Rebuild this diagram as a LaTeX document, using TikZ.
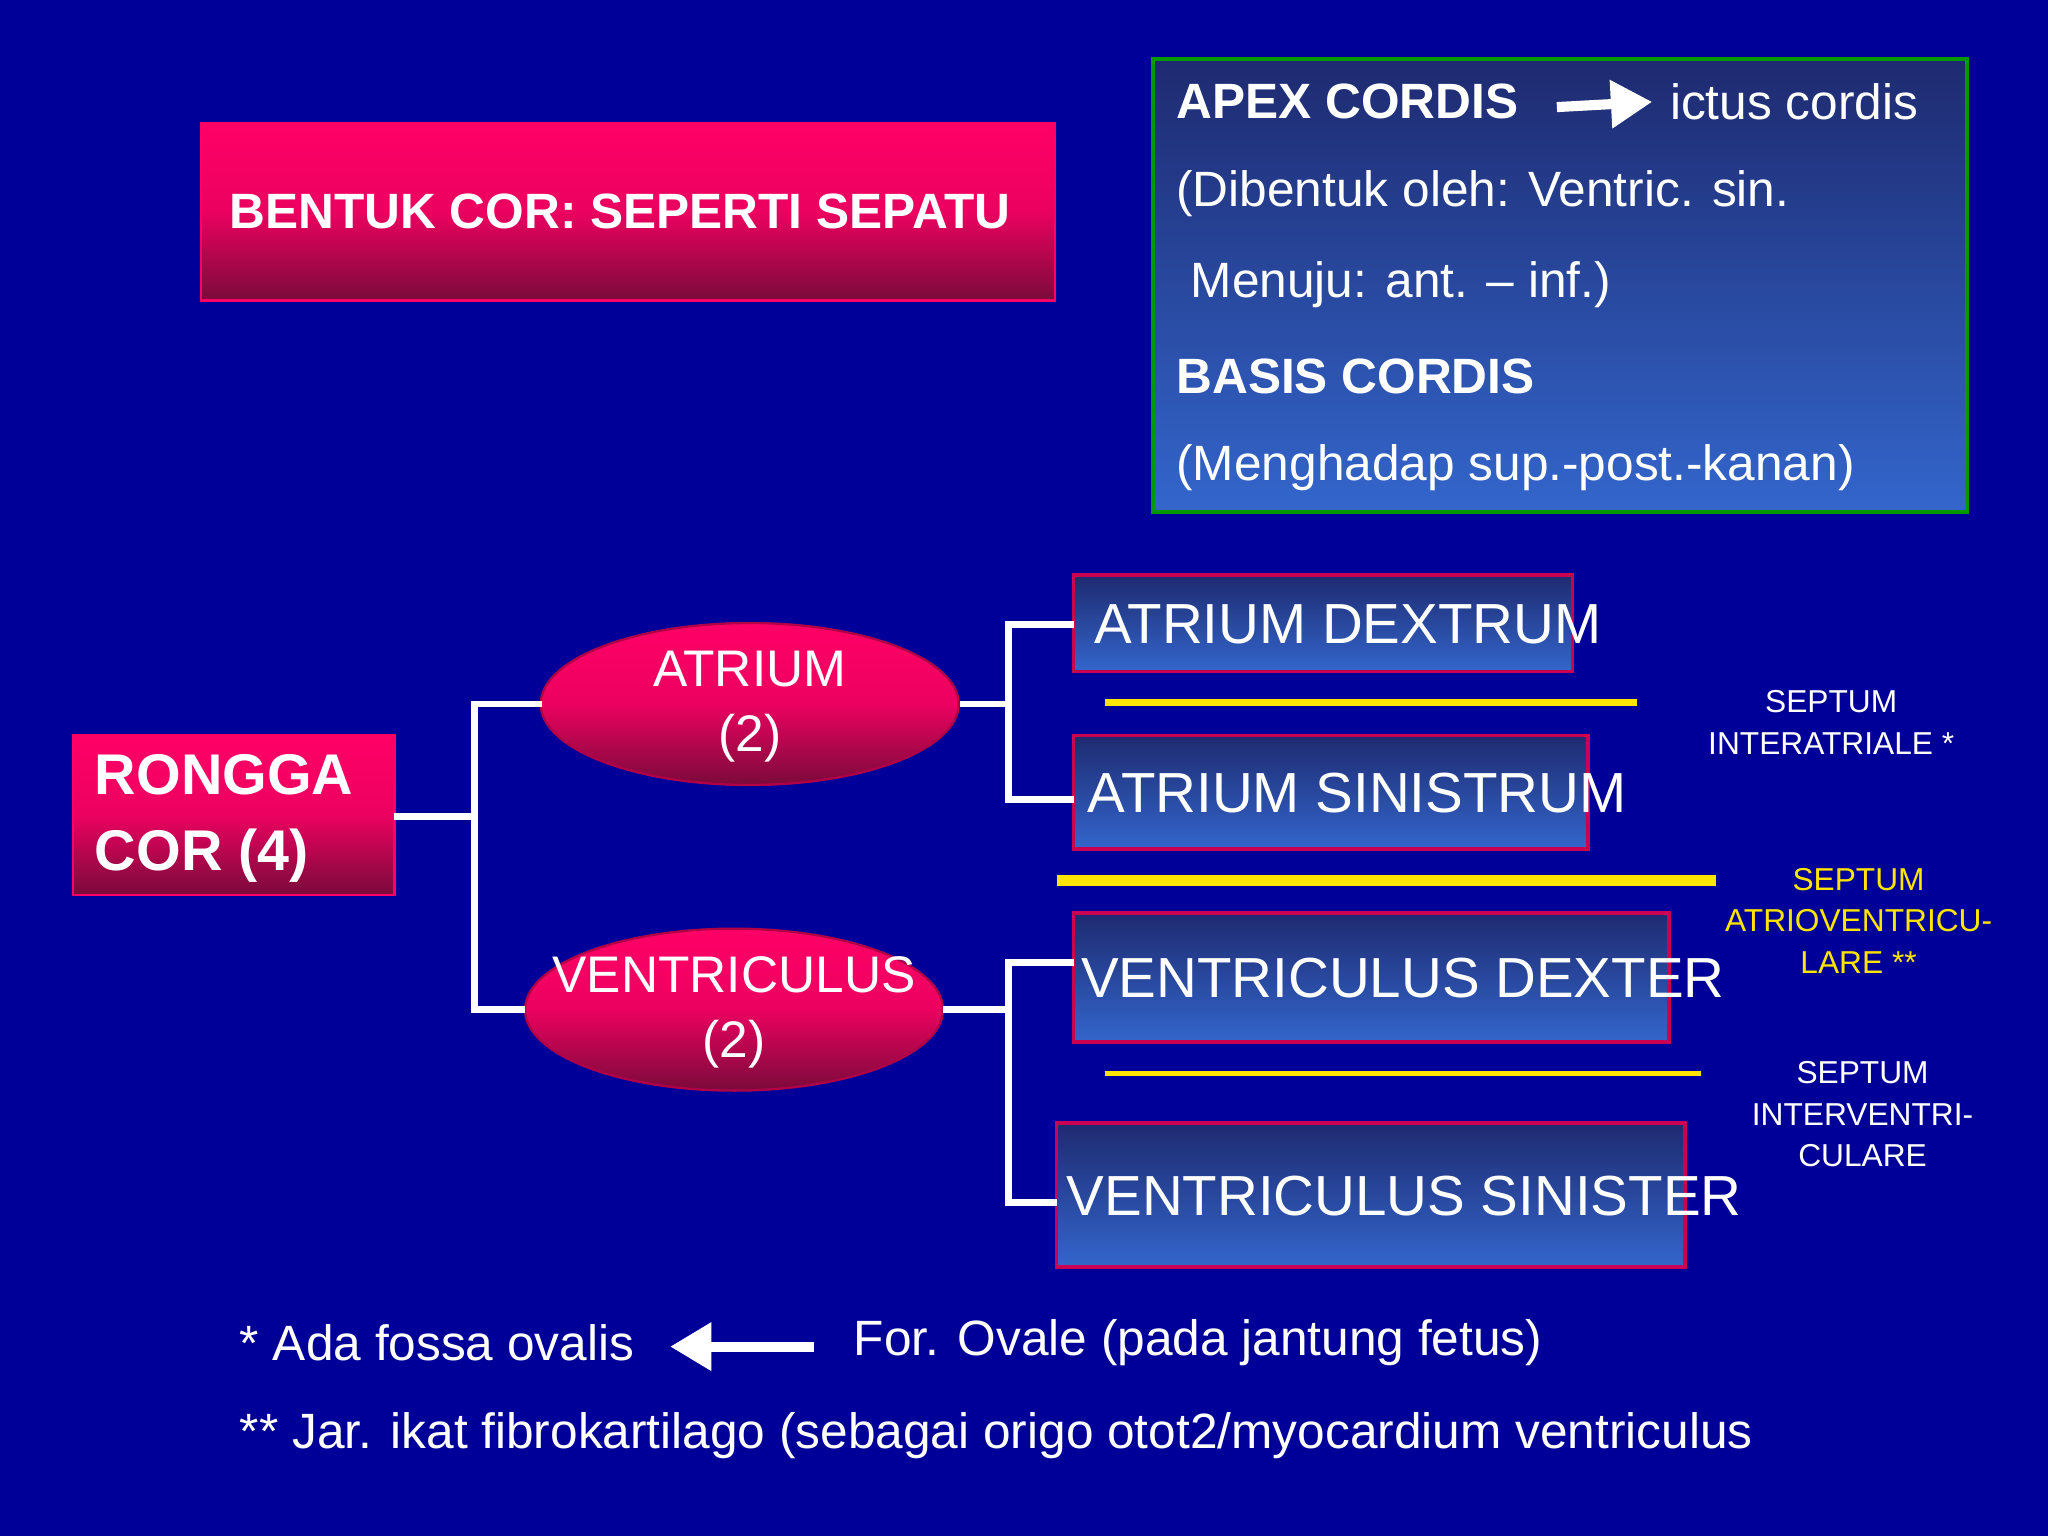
\documentclass[tikz,border=0pt]{standalone}
\usepackage{fontspec}
\setmainfont{Liberation Sans}
\usetikzlibrary{arrows.meta}
\definecolor{bg}{HTML}{000099}
\definecolor{pinkT}{HTML}{FF0066}
\definecolor{pinkB}{HTML}{7A0A3A}
\definecolor{blueT}{HTML}{1E2A70}
\definecolor{blueB}{HTML}{3366CC}
\definecolor{yel}{HTML}{FFE600}
\tikzset{
 pinkbox/.style={top color=pinkT,bottom color=pinkB,middle color=pinkT!85!pinkB,draw=pinkT,line width=0.5pt},
 bluebox/.style={top color=blueT,bottom color=blueB,draw=pinkT!80!black,line width=0.8pt},
 conn/.style={white,line width=1.5pt},
 txt/.style={text=white,font=\fontsize{12.3}{14}\selectfont,anchor=west,inner sep=0},
 big/.style={text=white,font=\fontsize{10.8}{13}\selectfont,anchor=west,inner sep=0},
 small/.style={font=\fontsize{6.9}{9}\selectfont,align=center,inner sep=0},
}
\begin{document}
\begin{tikzpicture}[x=0.01cm,y=-0.01cm]
\fill[bg] (0,0) rectangle (1568,1176);
\useasboundingbox (0,0) rectangle (1568,1176);
% top left box
\path[pinkbox] (154,94) rectangle (808,230);
\node[big,font=\fontsize{10.8}{13}\selectfont\bfseries] (bentuk) at (175,162) {BENTUK COR: SEPERTI SEPATU};
% apex box
\path[top color=blueT,bottom color=blueB,draw=green!60!black,line width=0.8pt] (883,45) rectangle (1506,392);
\node[big,font=\fontsize{10.8}{13}\selectfont\bfseries] (apex) at (900,78) {APEX CORDIS};
\node[big] (ictus) at (1278,78) {ictus cordis};
\draw[white,line width=2.2pt,-{Triangle[length=9pt,width=10pt]}] (1192,82) -- (ictus.west-|1265,82);
\node[big] (l2) at (900,148) {(Dibentuk oleh: Ventric. sin.};
\node[big] (l3) at (911,218) {Menuju: ant. -- inf.)};
\node[big,font=\fontsize{10.8}{13}\selectfont\bfseries] (basis) at (900,288) {BASIS CORDIS};
\node[big] (l5) at (900,358) {(Menghadap sup.-post.-kanan)};
% rongga
\path[pinkbox] (56,563) rectangle (302,685);
\node[txt,font=\fontsize{12.5}{15}\selectfont\bfseries,align=left,anchor=north west] (rongga) at (72,577) {RONGGA\\[1.6pt]COR (4)};
\coordinate (re) at (302,625);
% ellipses
\path[pinkbox,draw=pinkT!70!black] (574,539) ellipse [x radius=160,y radius=62];
\node[text=white,font=\fontsize{11.2}{14}\selectfont,align=center] (atr) at (574,541) {ATRIUM\\(2)};
\path[pinkbox,draw=pinkT!70!black] (562,773) ellipse [x radius=160,y radius=62];
\node[text=white,font=\fontsize{11.2}{14}\selectfont,align=center] (ven) at (562,775) {VENTRICULUS\\(2)};
% blue boxes
\path[bluebox] (822,440) rectangle (1204,514); \node[txt] (ad) at (837,478) {ATRIUM DEXTRUM};
\path[bluebox] (822,563) rectangle (1216,650); \node[txt] (as) at (832,607) {ATRIUM SINISTRUM};
\path[bluebox] (822,699) rectangle (1278,798); \node[txt] (vd) at (827,749) {VENTRICULUS DEXTER};
\path[bluebox] (809,860) rectangle (1290,970); \node[txt] (vs) at (816,916) {VENTRICULUS SINISTER};
% connectors
\draw[conn] (re) -- (363,625);
\draw[conn] (415,539) -- (363,539) -- (363,773) -- (402,773);
\draw[conn] (735,539) -- (772,539);
\draw[conn] (822,478) -- (772,478) -- (772,612) -- (822,612);
\draw[conn] (722,773) -- (772,773);
\draw[conn] (822,737) -- (772,737) -- (772,921) -- (809,921);
% septa
\draw[yel,line width=1.6pt] (846,538) -- (1253,538);
\draw[yel,line width=2.5pt] (809,674) -- (1314,674);
\draw[yel,line width=1.1pt] (846,822) -- (1302,822);
\node[small,text=white] (s1) at (1402,553) {SEPTUM\\INTERATRIALE *};
\node[small,text=yel] (s2) at (1423,705) {SEPTUM\\ATRIOVENTRICU-\\LARE **};
\node[small,text=white] (s3) at (1426,853) {SEPTUM\\INTERVENTRI-\\CULARE};
% footer
\node[big] (f1) at (183,1028) {* Ada fossa ovalis};
\node[big] (f2) at (653,1028) {For. Ovale (pada jantung fetus)};
\draw[white,line width=2.2pt,-{Triangle[length=9pt,width=10pt]}] (623,1031) -- (513,1031);
\node[big] (f3) at (183,1099) {** Jar. ikat fibrokartilago (sebagai origo otot2/myocardium ventriculus};
\end{tikzpicture}
\end{document}
